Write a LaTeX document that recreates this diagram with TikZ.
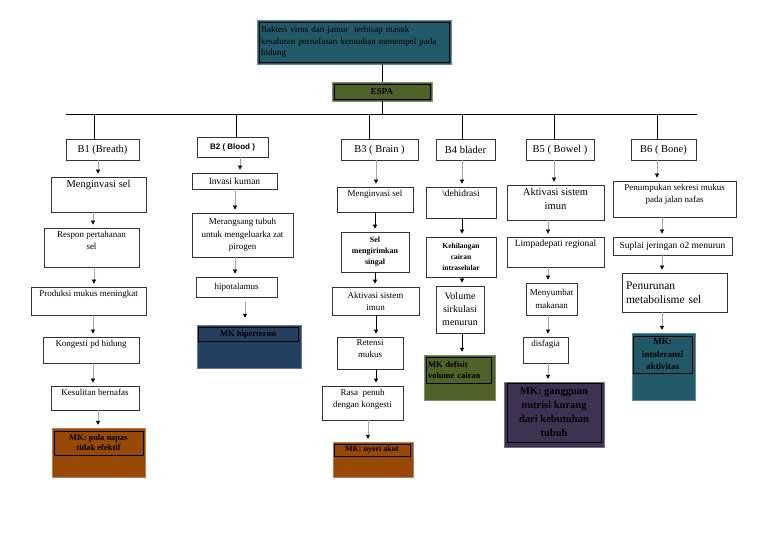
\documentclass[tikz,border=0pt]{standalone}
\usepackage{fontspec}
\setmainfont{Liberation Serif}
\setsansfont{Liberation Sans}
\usetikzlibrary{arrows.meta}

\definecolor{tealtua}{RGB}{33,89,104}
\definecolor{zaitun}{RGB}{79,98,40}
\definecolor{coklat}{RGB}{152,72,7}
\definecolor{biruTua}{RGB}{36,64,97}
\definecolor{ungu}{RGB}{63,49,81}

\tikzset{
  kotak/.style={draw=black!80, fill=white, line width=0.7pt, inner sep=1pt, align=center},
  isi/.style={anchor=north, inner sep=3pt, align=center},
  huruf/.style 2 args={font=\fontsize{#1}{#2}\selectfont},
  panah/.style={draw=black!35, line width=0.5pt, -{Triangle[length=4pt,width=4pt,color=black]}, shorten >=3pt},
  panahhitam/.style={draw=black, line width=0.7pt, -{Triangle[length=4pt,width=4pt,color=black]}, shorten >=3pt},
  garis/.style={draw=black, line width=0.7pt},
  mk/.style={fill=#1, draw=#1!70!white, line width=0.5pt, inner sep=0pt},
  dalam/.style={draw=black, line width=0.6pt, inner sep=1pt, align=center, execute at begin node=\bfseries},
}

\begin{document}
\begin{tikzpicture}[x=1pt, y=-1pt]
\fill[white] (0,0) rectangle (768,543);
\useasboundingbox (0,0) rectangle (768,543);

% akar dan ESPA
\node[mk=tealtua, minimum width=194pt, minimum height=44pt] (akar) at (354,42) {};
\node[draw=black, line width=0.6pt, text width=186pt, inner xsep=2pt, inner ysep=0pt, minimum height=40pt, align=left, huruf={9}{11.5}] (akarteks) at (akar) {Bakteri virus dan jamur\ \ terhisap masuk\\kesaluran pernafasan kemudian menempel pada\\hidung};
\node[mk=zaitun, minimum width=100pt, minimum height=19pt] (espa) at (382,91.5) {};
\node[dalam, minimum width=96pt, minimum height=15pt, huruf={9}{10}] (espateks) at (espa) {ESPA};
\coordinate (kiri) at (66,114);
\coordinate (kanan) at (697,114);
\draw[garis] (akar.south -| espa) -- (espa.north);
\draw[garis] (espa.south) -- (espa.south |- kiri);
\draw[garis] (kiri) -- (kanan);

% B1
\node[kotak, minimum width=73pt, minimum height=21pt, huruf={10.5}{12}] (b1) at (102.5,149.5) {B1 (Breath)};
\node[kotak, minimum width=95pt, minimum height=35pt, label={[isi, huruf={10.5}{13}]north:Menginvasi sel}] (b1a) at (98.5,194.5) {};
\node[kotak, minimum width=95pt, minimum height=39pt, label={[isi, huruf={9}{12}]north:{Respon pertahanan\\sel}}] (b1b) at (91.5,247.5) {};
\node[kotak, minimum width=115pt, minimum height=28pt, label={[isi, huruf={9}{12}]north:Produksi mukus meningkat}] (b1c) at (88.5,301) {};
\node[kotak, minimum width=96pt, minimum height=26pt, label={[isi, huruf={9}{12}]north:Kongesti pd hidung}] (b1d) at (91,350) {};
\node[kotak, minimum width=88pt, minimum height=24pt, label={[isi, huruf={9}{12}]north:Kesulitan bernafas}] (b1e) at (95,398) {};
\node[mk=coklat, minimum width=93pt, minimum height=49pt] (mk1) at (98.5,452.5) {};
\node[dalam, minimum width=89pt, minimum height=24pt, huruf={8.5}{10}] (mk1t) at (98.5,443) {MK: pola napas\\tidak efektif};

% B2
\node[kotak, minimum width=71pt, minimum height=20pt, font=\sffamily\bfseries\fontsize{8}{10}\selectfont] (b2) at (232.5,147) {B2 ( Blood )};
\node[kotak, minimum width=85pt, minimum height=16pt, huruf={9.5}{12}] (b2a) at (234.5,181) {Invasi kuman};
\node[kotak, minimum width=101pt, minimum height=44pt, huruf={9}{12.5}] (b2b) at (242.5,235) {Merangsang tubuh\\untuk mengeluarka zat\\pirogen};
\node[kotak, minimum width=81pt, minimum height=20pt, huruf={9}{12}] (b2c) at (236.5,287) {hipotalamus};
\node[mk=biruTua, minimum width=104pt, minimum height=43pt] (mk2) at (249,346.5) {};
\node[dalam, minimum width=100pt, minimum height=14pt, inner sep=0.5pt, huruf={8.5}{10}] (mk2t) at (248,334) {MK hipertermi};

% B3
\node[kotak, minimum width=77pt, minimum height=21pt, huruf={10.5}{12}] (b3) at (379.5,149.5) {B3 ( Brain )};
\node[kotak, minimum width=76pt, minimum height=25pt, label={[isi, huruf={9}{12}]north:Menginvasi sel}] (b3a) at (375,199.5) {};
\node[kotak, minimum width=68pt, minimum height=40pt, huruf={8}{11}, execute at begin node=\bfseries] (b3b) at (375,252) {Sel\\mengirimkan\\singal};
\node[kotak, minimum width=87pt, minimum height=28pt, huruf={9}{12}] (b3c) at (375.5,301) {Aktivasi sistem\\imun};
\node[kotak, minimum width=66pt, minimum height=32pt, label={[isi, huruf={9}{12}]north:{Retensi\\mukus}}] (b3d) at (370,353) {};
\node[kotak, minimum width=81pt, minimum height=34pt, label={[isi, huruf={9}{12}]north:{Rasa\ \ penuh\\dengan kongesti}}] (b3e) at (362.5,403) {};
\node[mk=coklat, minimum width=80pt, minimum height=35pt] (mk3) at (373,459.5) {};
\node[dalam, minimum width=76pt, minimum height=12pt, inner sep=0.5pt, huruf={8}{9}] (mk3t) at (372,450) {MK: nyeri akut};

% B4
\node[kotak, minimum width=59pt, minimum height=21pt, huruf={10.5}{12}] (b4) at (465.5,149.5) {B4 blader};
\node[kotak, minimum width=70pt, minimum height=31pt, label={[isi, huruf={9.5}{12}]north:\textbackslash dehidrasi}] (b4a) at (461,202.5) {};
\node[kotak, minimum width=70pt, minimum height=40pt, huruf={7.5}{11}, execute at begin node=\bfseries] (b4b) at (461,257) {Kehilangan\\cairan\\intraselular};
\node[kotak, minimum width=48pt, minimum height=47pt, huruf={10}{13}] (b4c) at (460,309.5) {Volume\\sirkulasi\\menurun};
\node[mk=zaitun, minimum width=71pt, minimum height=45pt] (mk4) at (459.5,377.5) {};
\node[dalam, minimum width=65pt, minimum height=26pt, text width=61pt, align=left, huruf={8.5}{11}] (mk4t) at (458.5,370) {MK defisit\\volume cairan};

% B5
\node[kotak, minimum width=68pt, minimum height=21pt, huruf={10.5}{12}] (b5) at (560,149.5) {B5 ( Bowel )};
\node[kotak, minimum width=97pt, minimum height=35pt, label={[isi, huruf={10.5}{14}]north:{Aktivasi sistem\\imun}}] (b5a) at (555.5,202.5) {};
\node[kotak, minimum width=97pt, minimum height=30pt, label={[isi, huruf={9.5}{12}]north:Limpadepati regional}] (b5b) at (555.5,252) {};
\node[kotak, minimum width=51pt, minimum height=32pt, huruf={9}{13}] (b5c) at (551.5,299) {Menyumbat\\makanan};
\node[kotak, minimum width=45pt, minimum height=26pt, label={[isi, huruf={9}{12}]north:disfagia}] (b5d) at (545.5,350) {};
\node[mk=ungu, minimum width=100pt, minimum height=65pt] (mk5) at (554,414.5) {};
\node[dalam, minimum width=94pt, minimum height=59pt, huruf={10.5}{14}] (mk5t) at (554,412.5) {MK: gangguan\\nutrisi kurang\\dari kebutuhan\\tubuh};

% B6
\node[kotak, minimum width=65pt, minimum height=21pt, huruf={10.5}{12}] (b6) at (663.5,149.5) {B6 ( Bone)};
\node[kotak, minimum width=123pt, minimum height=36pt, label={[isi, huruf={9}{12}]north:{Penumpukan sekresi mukus\\pada jalan nafas}}] (b6a) at (674.5,199) {};
\node[kotak, minimum width=119pt, minimum height=18pt, huruf={9.5}{12}] (b6b) at (672.5,246) {Suplai jeringan o2 menurun};
\node[kotak, minimum width=105pt, minimum height=39pt, text width=97pt, align=left, huruf={11.5}{14}] (b6c) at (674.5,292.5) {Penurunan\\metabolisme sel};
\node[mk=tealtua, minimum width=63pt, minimum height=67pt] (mk6) at (663.5,366.5) {};
\node[dalam, minimum width=59pt, minimum height=37pt, huruf={9}{12.5}] (mk6t) at (662.5,354.5) {MK:\\intoleransi\\aktivitas};

% garis dari bar ke B
\draw[garis] (kiri -| 94,0) -- (b1.north -| 94,0);
\draw[garis] (kiri -| 236,0) -- (b2.north -| 236,0);
\draw[garis] (kiri -| 369,0) -- (b3.north -| 369,0);
\draw[garis] (kiri -| 462,0) -- (b4.north -| 462,0);
\draw[garis] (kiri -| 554,0) -- (b5.north -| 554,0);
\draw[garis] (kiri -| 657,0) -- (b6.north -| 657,0);

% panah B1
\draw[panah] (b1.south -| 98,0) -- (b1a.north -| 98,0);
\draw[panah] (b1a.south -| 93,0) -- (b1b.north -| 93,0);
\draw[panah] (b1b.south -| 94,0) -- (b1c.north -| 94,0);
\draw[panah] (b1c.south -| 93,0) -- (b1d.north -| 93,0);
\draw[panah] (b1d.south -| 93,0) -- (b1e.north -| 93,0);
\draw[panah] (b1e.south -| 98,0) -- (mk1.north -| 98,0);
% panah B2
\draw[panah] (b2.south -| 240,0) -- (b2a.north -| 240,0);
\draw[panah] (b2a.south -| 235,0) -- (b2b.north -| 235,0);
\draw[panah] (b2b.south -| 235,0) -- (b2c.north -| 235,0);
\draw[panah, shorten <=5pt, shorten >=7pt] (b2c.south -| 245,0) -- (mk2.north -| 245,0);
% panah B3
\draw[panah] (b3.south -| 376,0) -- (b3a.north -| 376,0);
\draw[panahhitam] (b3a.south -| 375,0) -- (b3b.north -| 375,0);
\draw[panahhitam] (b3b.south -| 375,0) -- (b3c.north -| 375,0);
\draw[panahhitam] (b3c.south -| 376,0) -- (b3d.north -| 376,0);
\draw[panahhitam] (b3d.south -| 376,0) -- (b3e.north -| 376,0);
\draw[panah] (b3e.south -| 368,0) -- (mk3.north -| 368,0);
% panah B4
\draw[panah] (b4.south -| 462,0) -- (b4a.north -| 462,0);
\draw[panahhitam] (b4a.south -| 462,0) -- (b4b.north -| 462,0);
\draw[panahhitam] (b4b.south -| 462,0) -- (b4c.north -| 462,0);
\draw[panahhitam] (b4c.south -| 462,0) -- (mk4.north -| 462,0);
% panah B5
\draw[panah] (b5.south -| 554,0) -- (b5a.north -| 554,0);
\draw[panah] (b5a.south -| 548,0) -- (b5b.north -| 548,0);
\draw[panah] (b5b.south -| 548,0) -- (b5c.north -| 548,0);
\draw[panah] (b5c.south -| 548,0) -- (b5d.north -| 548,0);
\draw[panah] (b5d.south -| 548,0) -- (mk5.north -| 548,0);
% panah B6
\draw[panah] (b6.south -| 657,0) -- (b6a.north -| 657,0);
\draw[panah] (b6a.south -| 662,0) -- (b6b.north -| 662,0);
\draw[panah] (b6b.south -| 662,0) -- (b6c.north -| 662,0);
\draw[panah] (b6c.south -| 662,0) -- (mk6.north -| 662,0);
\end{tikzpicture}
\end{document}
